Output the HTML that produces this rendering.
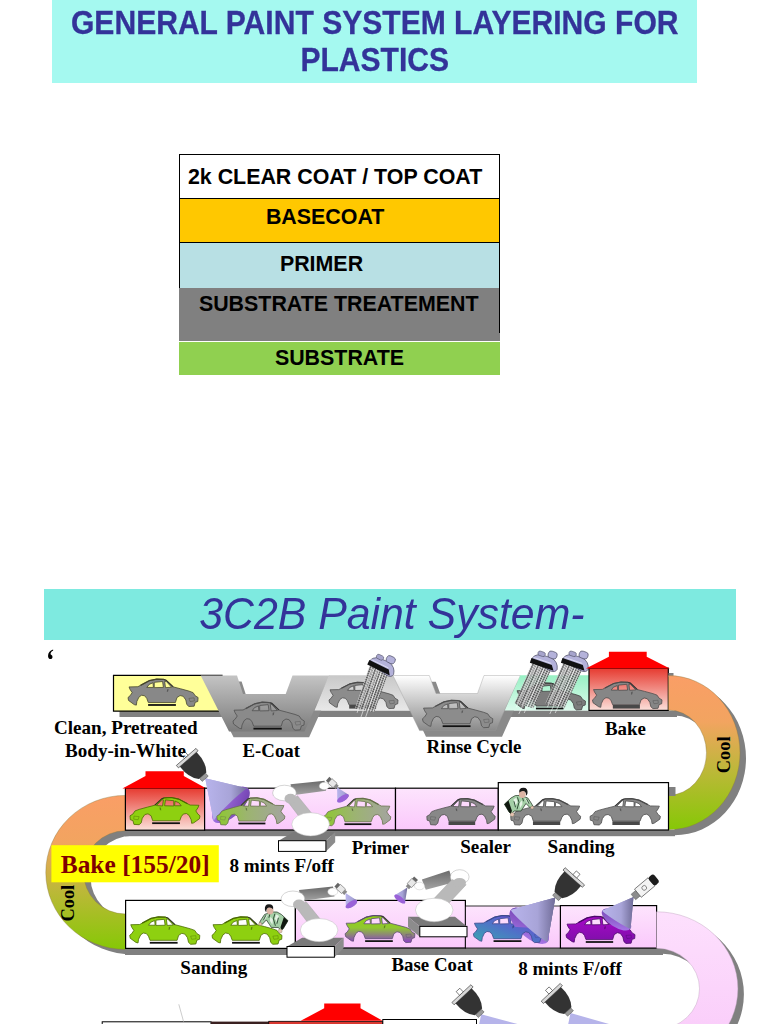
<!DOCTYPE html>
<html><head><meta charset="utf-8">
<style>
html,body{margin:0;padding:0;background:#fff;}
body{width:768px;height:1024px;position:relative;overflow:hidden;font-family:"Liberation Sans",sans-serif;}
.abs{position:absolute;}
#b1{left:51.5px;top:0;width:645.5px;height:82.8px;background:#a5f9f0;}
#t1{-webkit-text-stroke:0.3px #333399;left:21.5px;top:4.3px;width:705.5px;text-align:center;color:#333399;font-weight:bold;font-size:33.1px;line-height:37px;transform:scaleX(0.909);transform-origin:353px 0;}
.lay{position:absolute;left:178.9px;width:320.9px;box-sizing:border-box;font-weight:bold;font-size:21.4px;color:#000;white-space:nowrap;}
.lay span{position:absolute;}
#b2{left:44.3px;top:589px;width:691.9px;height:51.4px;background:#7eeae0;}
#t2{left:46.3px;top:589px;width:691.2px;text-align:center;color:#333399;font-style:italic;font-size:42.8px;line-height:51px;transform:scaleY(1.04);transform-origin:0 40px;}
#q{left:45.6px;top:644.3px;font-family:"Liberation Serif",serif;font-weight:bold;font-size:32px;line-height:32px;color:#000;transform:scaleX(0.8);transform-origin:0 0;}
svg text{font-family:"Liberation Serif",serif;font-weight:bold;fill:#000;}
</style></head><body>
<div id="b1" class="abs"></div>
<div id="t1" class="abs">GENERAL PAINT SYSTEM LAYERING FOR<br>PLASTICS</div>

<div class="lay" style="top:154px;height:45px;background:#fff;border:1px solid #000;"><span style="left:8px;top:9.6px;">2k CLEAR COAT / TOP COAT</span></div>
<div class="lay" style="top:198px;height:45px;background:#ffc800;border:1px solid #000;"><span style="left:86px;top:5.8px;">BASECOAT</span></div>
<div class="lay" style="top:242px;height:46px;background:#b8e0e4;border:1px solid #000;border-bottom:none;"><span style="left:100px;top:8.6px;">PRIMER</span></div>
<div class="lay" style="top:287.7px;height:53.6px;background:#808080;"><span style="left:20px;top:4.2px;">SUBSTRATE TREATEMENT</span></div>
<div class="abs" style="left:498.6px;top:287px;width:1.2px;height:45.5px;background:#000;"></div>
<div class="lay" style="top:342px;height:33px;background:#90d050;"><span style="left:96px;top:4px;">SUBSTRATE</span></div>

<div id="b2" class="abs"></div>
<div id="t2" class="abs">3C2B Paint System-</div>
<div id="q" class="abs">&#8216;</div>
<svg class="abs" style="left:0;top:640px;" width="768" height="384" viewBox="0 640 768 384">
<defs>
<symbol id="car" viewBox="55 85 673 265" preserveAspectRatio="none" overflow="visible">
<path fill-rule="evenodd" d="M65,160 L150,158 L175,145 L260,100 L330,85 L400,88 L420,95 L490,160 L560,178 L640,200 L680,215 L700,245 L728,262 L725,300 L700,308 L690,345 L640,348 L620,330 L610,285 L585,250 L555,243 L525,262 L510,310 L250,310 L235,270 L215,245 L185,240 L160,258 L140,300 L135,335 L115,330 L60,290 L55,262 L75,245 L95,215 L75,185 Z
M236,165 L258,136 L295,120 L299,165 Z M307,116 L387,108 L395,165 L307,167 Z M407,108 L421,106 L474,163 L415,167 Z"/>
<path d="M400,90 L422,96 L490,160" fill="none" stroke="#222" stroke-opacity="0.75" stroke-width="11"/>
<path d="M175,145 L260,100 L330,85 L400,88" fill="none" stroke-width="12"/>
<path d="M430,185 L445,180 L440,205 L428,210 Z" fill="#000" fill-opacity="0.35" stroke="none"/>
<path d="M640,270 L690,265 L692,295 L650,300 Z" fill="none" stroke-opacity="0.5"/>
<rect x="248" y="325" width="267" height="17" fill="#111" stroke="none"/>
</symbol>
<symbol id="carT" viewBox="55 85 673 265" preserveAspectRatio="none" overflow="visible">
<path fill-rule="evenodd" d="M65,160 L150,158 L175,145 L260,100 L330,85 L400,88 L420,95 L490,160 L560,178 L640,200 L680,215 L700,245 L728,262 L725,300 L700,308 L690,345 L640,348 L620,330 L610,285 L585,250 L555,243 L525,262 L510,310 L250,310 L235,270 L215,245 L185,240 L160,258 L140,300 L135,335 L115,330 L60,290 L55,262 L75,245 L95,215 L75,185 Z
M236,165 L258,136 L295,120 L299,165 Z M307,116 L387,108 L395,165 L307,167 Z M407,108 L421,106 L474,163 L415,167 Z"/>
<path d="M400,90 L422,96 L490,160" fill="none" stroke="#222" stroke-opacity="0.75" stroke-width="11"/>
<path d="M175,145 L260,100 L330,85 L400,88" fill="none" stroke-width="12"/>
<path d="M430,185 L445,180 L440,205 L428,210 Z" fill="#000" fill-opacity="0.35" stroke="none"/>
<path d="M640,270 L690,265 L692,295 L650,300 Z" fill="none" stroke-opacity="0.5"/>
<rect x="252" y="312" width="262" height="36" fill="#484848" stroke="none"/>
</symbol>
<linearGradient id="gBake" x1="0" y1="0" x2="0" y2="1"><stop offset="0" stop-color="#e63a30"/><stop offset="1" stop-color="#fbe0da"/></linearGradient>
<linearGradient id="gPink" x1="0" y1="0" x2="0" y2="1"><stop offset="0" stop-color="#fde4fd"/><stop offset="1" stop-color="#fac8fb"/></linearGradient>
<linearGradient id="gPinkArc" x1="0" y1="0" x2="0" y2="1"><stop offset="0" stop-color="#fde0fd"/><stop offset="1" stop-color="#f9c8f9"/></linearGradient>
<linearGradient id="gMint" x1="0" y1="0" x2="0" y2="1"><stop offset="0" stop-color="#98f0c4"/><stop offset="1" stop-color="#dcfaec"/></linearGradient>
<linearGradient id="gEcoat" x1="0" y1="0" x2="0" y2="1"><stop offset="0" stop-color="#c4c4c4"/><stop offset="1" stop-color="#7c7c7c"/></linearGradient>
<linearGradient id="gRinse" x1="0" y1="0" x2="0" y2="1"><stop offset="0" stop-color="#ffffff"/><stop offset="1" stop-color="#8a8a8a"/></linearGradient>
<linearGradient id="gStrip" x1="0" y1="0" x2="0" y2="1"><stop offset="0" stop-color="#c8c8c8"/><stop offset="1" stop-color="#e8e8e8"/></linearGradient>
<linearGradient id="gCool" x1="0" y1="0" x2="0" y2="1"><stop offset="0" stop-color="#fa9e66"/><stop offset="0.3" stop-color="#f2a460"/><stop offset="0.62" stop-color="#bcb838"/><stop offset="1" stop-color="#86c806"/></linearGradient>
<linearGradient id="gCone" x1="0" y1="0" x2="1" y2="0"><stop offset="0" stop-color="#b8b4ec"/><stop offset="0.6" stop-color="#a8a4d8"/><stop offset="1" stop-color="#706c98"/></linearGradient>
<linearGradient id="gCar3" x1="0" y1="0" x2="0" y2="1"><stop offset="0" stop-color="#90d010"/><stop offset="0.45" stop-color="#90c830"/><stop offset="1" stop-color="#8a3cc8"/></linearGradient>
<linearGradient id="gCar4" x1="0" y1="1" x2="1" y2="0"><stop offset="0" stop-color="#38a8b0"/><stop offset="0.5" stop-color="#5070c8"/><stop offset="1" stop-color="#7a38d8"/></linearGradient>
<linearGradient id="gCar5" x1="0" y1="0" x2="0" y2="1"><stop offset="0" stop-color="#a808c8"/><stop offset="1" stop-color="#7c10a8"/></linearGradient>
<linearGradient id="gArm" x1="0" y1="0" x2="0" y2="1"><stop offset="0" stop-color="#6a6a6a"/><stop offset="1" stop-color="#a4a4a4"/></linearGradient>
<pattern id="pSpray" width="2.6" height="2.2" patternUnits="userSpaceOnUse"><rect width="2.6" height="2.2" fill="#525252"/><rect x="0" y="0" width="0.75" height="2.2" fill="#f6f6f6"/><rect x="0" y="0" width="2.6" height="0.8" fill="#d8d8d8" fill-opacity="0.6"/></pattern>
<linearGradient id="gFade" x1="0" y1="0" x2="0" y2="1"><stop offset="0" stop-color="#fff"/><stop offset="0.6" stop-color="#eee"/><stop offset="1" stop-color="#999"/></linearGradient>
<mask id="mSpray" maskUnits="userSpaceOnUse" x="-14" y="0" width="28" height="60"><rect x="-14" y="0" width="28" height="60" fill="url(#gFade)"/></mask>
<g id="showerSpray">
  <g mask="url(#mSpray)"><polygon points="-10,0 10,0 9.5,43 -10,46" fill="url(#pSpray)" fill-opacity="0.92"/></g>
  <path d="M-1,2 L-1.5,54 M3,2 L3,51 M-6,2 L-6.5,49" stroke="#fff" stroke-width="0.6" fill="none" stroke-opacity="0.85"/>
</g>
<g id="showerHead">
  <path d="M-12,-1 Q-12,-8 -4,-9.5 L6,-10 Q14,-8.5 15.5,-1 Q15,2.8 10,2.8 Z" fill="#b4b2da" stroke="#44445a" stroke-width="0.6"/>
  <rect x="2" y="-16.5" width="9" height="7" rx="2.8" fill="#b4b2da" stroke="#44445a" stroke-width="0.6"/>
  <rect x="-8" y="-12.8" width="7.5" height="4.5" rx="2" fill="#a6a4cc" stroke="#44445a" stroke-width="0.5"/>
  <path d="M-12.5,-3.4 L9,-3.4 L12.5,1.6 L-12.5,1.6 Z" fill="#111"/>
  <path d="M-11,-4.6 L8,-4.6" stroke="#e0e0f4" stroke-width="0.8"/>
</g>
<g id="gun">
  <!-- big dark spray gun, nozzle pointing down (+y), origin at nozzle tip -->
  <rect x="-4" y="-4" width="8" height="4" fill="#9a9a9a" stroke="#333" stroke-width="0.4"/>
  <path d="M-5,-4 Q-12,-12 -11,-26 L11,-26 Q12,-12 5,-4 Z" fill="#333"/>
  <rect x="-13" y="-29" width="26" height="3.2" fill="#d8d8d8" stroke="#333" stroke-width="0.6"/>
  <rect x="-2.5" y="-34" width="5" height="5" fill="#fff" stroke="#333" stroke-width="0.6"/>
</g>
<g id="sgun">
  <!-- small robot gun: origin nozzle tip, pointing +y -->
  <rect x="-2.2" y="-3" width="4.4" height="3" fill="#8a8a8a"/>
  <rect x="-3" y="-10" width="6" height="7" fill="#e8e8e8" stroke="#555" stroke-width="0.5"/>
  <rect x="-2.6" y="-13" width="5.2" height="3" fill="#666"/>
</g>
</defs>
<defs>
<linearGradient id="gInner" x1="0" y1="0" x2="1" y2="1"><stop offset="0" stop-color="#b080f0"/><stop offset="1" stop-color="#6a3aa8"/></linearGradient>
<linearGradient id="gCarGG" x1="0" y1="0" x2="1" y2="0"><stop offset="0" stop-color="#a4a4a0"/><stop offset="0.55" stop-color="#9cb470"/><stop offset="1" stop-color="#8ec830"/></linearGradient>
<g id="worker">
  <!-- local coords: page coords of worker 1 minus (523.5,792.3) head centre -->
  <path d="M-19.1,11.9 L-12.5,5.7 L-8.2,3.3 L-2.5,3.2 L4.3,5.7 L7,9.7 L9.4,13.7 L6.5,15.4 L2.5,11.2 L-0.5,15.7 L-2.5,18.7 L-9.5,18.7 L-12.1,22.1 L-14.5,19.7 Z" fill="#a4cfa6" stroke="#1c2c1c" stroke-width="0.7"/>
  <path d="M-19.1,11.9 L-15,8.2 L-13.6,12.5 L-11.6,18.5 L-12.6,21.6 L-14.5,19.7 Z" fill="#10180f"/>
  <path d="M-10,7 L-7,5.5 L-6,10 L-8.5,14 Z M1,6 L3.5,7 L6,12 L4,11 Z M-4,11 L-1.5,8 L-1,12 L-3.5,16 Z" fill="#e4f2e4"/>
  <path d="M-6,5 L-4.5,10 L-6.5,17 M-1,5 L0,9 M3,6.5 L5.5,11.5 M-9.5,9 L-8,15" stroke="#24402a" stroke-width="0.9" fill="none"/>
  <circle cx="-11.3" cy="22.2" r="2" fill="#e6c2b2" stroke="#664" stroke-width="0.3"/>
  <circle cx="8.6" cy="15.2" r="1.6" fill="#e6c2b2" stroke="#664" stroke-width="0.3"/>
  <ellipse cx="-1.2" cy="2" rx="3.4" ry="3.8" fill="#dcb4a4"/>
  <path d="M-4.2,0.5 Q-5,-4.6 0,-4.6 Q4.6,-4.6 4,1 Q3.6,3 2.6,3.4 Q2.8,-0.5 0,-1.2 Q-2.4,-1.6 -4.2,0.5 Z" fill="#1a1a1a"/>
</g>
<g id="robot">
  <!-- origin = front-left-top corner of the white base front face; robot reaching to the RIGHT -->
  <polygon points="0,0 15.2,-8.7 56.7,-8.7 47.4,0" fill="#7a7a7a"/>
  <polygon points="47.4,0 56.7,-8.7 56.7,1.6 47.4,10.7" fill="#8c8c8c"/>
  <rect x="0" y="0" width="47.4" height="10.7" fill="#fff" stroke="#000" stroke-width="1"/>
  <!-- upper arm (dark) -->
  <polygon points="12,-56.5 46,-60 47.5,-50 14,-45.5" fill="url(#gArm)"/>
  <!-- shoulder -->
  <ellipse cx="5.9" cy="-47.7" rx="11.8" ry="7.8" fill="#fff" stroke="#aaa" stroke-width="0.5"/>
  <!-- lower arm (light) -->
  <polygon points="10,-38 19,-45 36,-24 26,-17" fill="#b9b9b9" stroke="#999" stroke-width="0.4"/>
  <ellipse cx="12" cy="-42" rx="6" ry="5" fill="#b9b9b9"/>
  <!-- body -->
  <ellipse cx="32.1" cy="-16.4" rx="18.8" ry="11.6" fill="#fff" stroke="#bbb" stroke-width="0.5"/>
  <!-- wrist -->
  <ellipse cx="45.7" cy="-54.7" rx="5" ry="3.7" fill="#fff" stroke="#bbb" stroke-width="0.4"/>
  <!-- small gun + cone -->
  <use href="#sgun" transform="translate(58.8,-53.2) rotate(-48)"/>
  <path d="M58.6,-53.5 L70,-46 A6.6,2.8 -32 0 1 58.8,-38.8 Z" fill="url(#gCone)"/>
  <ellipse cx="64.4" cy="-42.4" rx="6.6" ry="2.8" transform="rotate(-32 64.4 -42.4)" fill="#9a62d8"/>
</g>
</defs>
<polygon points="119.5,711 222,711 222,717 119.5,717" fill="#808080"/>
<polygon points="312,710.4 416,710.4 416,717 312,717" fill="#808080"/>
<polygon points="500,710.4 677,710.4 677,717 500,717" fill="#808080"/>
<polygon points="113.5,675.4 222,675.4 222,711.2 113.5,711.2" fill="#ffff99" stroke="#000" stroke-width="1.2"/>
<use href="#car" x="128" y="679.1" width="70.1" height="27.6" fill="#888888" stroke="#44442c" stroke-width="7.5" />
<polygon points="205.29999999999998,681.4 241.6,681.4 247.6,699.9 290.3,699.9 297.1,681.4 334.20000000000005,681.4 309.1,737.3 233.6,737.3" fill="#8a8a8a"/>
<polygon points="200.7,675.5 237,675.5 243,694 285.7,694 292.5,675.5 329.6,675.5 304.5,731.4 229,731.4" fill="url(#gEcoat)"/>
<use href="#car" x="233" y="702.2" width="71.3" height="28.2" fill="#8a8a8a" stroke="#505050" stroke-width="7.5" />
<text x="242.5" y="757" font-size="18.3" textLength="57.5" lengthAdjust="spacingAndGlyphs">E-Coat</text>
<polygon points="329,675.3 393,675.3 412.5,710.4 314.5,710.4" fill="url(#gStrip)"/>
<use href="#carT" x="329" y="682.3" width="69" height="26.5" fill="#8c8c8c" stroke="#4a4a4a" stroke-width="7.5" />
<use href="#showerSpray" transform="translate(379.2,668.6) rotate(19)"/><use href="#showerHead" transform="translate(379.2,668.6) rotate(26)"/>
<polygon points="399.5,681.7 435.8,681.7 442.5,699.7 484.0,699.7 490.5,681.7 526.9,681.7 502.0,736.8000000000001 426.0,736.8000000000001" fill="#8a8a8a"/>
<polygon points="393,675.5 429.3,675.5 436,693.5 477.5,693.5 484,675.5 520.4,675.5 495.5,730.6 419.5,730.6" fill="url(#gRinse)" stroke="#999" stroke-width="0.4"/>
<use href="#car" x="422.5" y="700.3" width="70.3" height="27.6" fill="#8c8c8c" stroke="#505050" stroke-width="7.5" />
<text x="426.5" y="752.7" font-size="18.3" textLength="95" lengthAdjust="spacingAndGlyphs">Rinse Cycle</text>
<polygon points="520.4,675.3 589,675.3 589,710.4 504.7,710.4" fill="url(#gMint)"/>
<use href="#car" x="516" y="683" width="69.5" height="27.2" fill="#7c7c7c" stroke="#404040" stroke-width="7.5" />
<use href="#showerSpray" transform="translate(542.2,665.2) rotate(24)"/><use href="#showerHead" transform="translate(542.2,665.2) rotate(19)"/>
<use href="#showerSpray" transform="translate(573.2,665.2) rotate(24)"/><use href="#showerHead" transform="translate(573.2,665.2) rotate(19)"/>
<rect x="589" y="668.2" width="79.3" height="42.2" fill="url(#gBake)" stroke="#000" stroke-width="1.2"/>
<polygon points="585.9,668.4 608.9,656.7 608.9,651.8 646.7,651.8 646.7,656.7 669.8,668.4" fill="#ff0000"/>
<use href="#carT" x="592.5" y="682" width="69.5" height="26.8" fill="#868686" stroke="#4a4a4a" stroke-width="7.5" />
<text x="605" y="735.4" font-size="18.3" textLength="41" lengthAdjust="spacingAndGlyphs">Bake</text>
<path d="M674.5,681.1 A71.5,77.1 0 0 1 674.5,835.3000000000001 L674.5,800.8000000000001 A38,42.6 0 0 0 674.5,715.6 Z" fill="#808080"/>
<rect x="668.5" y="673" width="5" height="4" fill="#808080"/>
<path d="M668.5,675.6 A71.5,77.1 0 0 1 668.5,829.8000000000001 L668.5,795.3000000000001 A38,42.6 0 0 0 668.5,710.1 Z" fill="url(#gCool)" stroke="#8a7a40" stroke-width="0.4"/>
<text transform="translate(729.6,773.2) rotate(-90)" font-size="19.3" textLength="36.8" lengthAdjust="spacingAndGlyphs">Cool</text>
<rect x="125" y="829.8" width="550" height="6.4" fill="#808080"/>
<rect x="668.5" y="787" width="7" height="9" fill="#808080"/>
<path d="M132.4,800.4 A79.6,77 0 0 0 132.4,954.4 L132.4,919.0 A41.8,41.6 0 0 1 132.4,835.8 Z" fill="#808080"/>
<path d="M125.4,795.4 A79.6,77 0 0 0 125.4,949.4 L125.4,914.0 A41.8,41.6 0 0 1 125.4,830.8 Z" fill="url(#gCool)" stroke="#8a7a40" stroke-width="0.4"/>
<text transform="translate(73.9,921.6) rotate(-90)" font-size="19.3" textLength="36.8" lengthAdjust="spacingAndGlyphs">Cool</text>
<rect x="125.4" y="788.2" width="79.2" height="42" fill="url(#gBake)" stroke="#000" stroke-width="1.2"/>
<polygon points="122.4,788.4 145.5,776 145.5,771.3 183.8,771.3 183.8,776 206.4,788.4" fill="#ff0000"/>
<use href="#car" x="0" y="0" width="70" height="27.4" transform="translate(200,797.5) scale(-1,1)" fill="#8ed010" stroke="#4a6a00" stroke-width="7.5" />
<rect x="204.6" y="788.2" width="190.9" height="41.8" fill="url(#gPink)" stroke="#000" stroke-width="1.2"/>
<rect x="395.5" y="788.2" width="102.8" height="41.8" fill="url(#gPink)" stroke="#000" stroke-width="1.2"/>
<rect x="498.3" y="782.6" width="170.2" height="47.4" fill="#fff" stroke="#000" stroke-width="1.2"/>
<rect x="0" y="0" width="0" height="0"/>
<path d="M205.2,778.3 L213.75,821.3 A23.745907542142913,11 -43.8 0 0 248,788.4 Z" fill="url(#gCone)"/><ellipse cx="230.875" cy="804.8499999999999" rx="23.745907542142913" ry="11" transform="rotate(-43.8 230.875 804.8499999999999)" fill="url(#gInner)"/><path d="M205.2,778.3 L213.75,821.3 A23.745907542142913,2.2 -43.8 0 1 248,788.4 Z" fill="url(#gCone)"/>
<use href="#gun" transform="translate(205.2,778.8) rotate(-41)"/>
<use href="#car" x="0" y="0" width="68" height="27.4" transform="translate(284.9,797.8) scale(-1,1)" fill="url(#gCarGG)" stroke="#66704a" stroke-width="7.5" />
<use href="#car" x="0" y="0" width="67.8" height="27.5" transform="translate(390.8,798.4) scale(-1,1)" fill="url(#gCarGG)" stroke="#66704a" stroke-width="7.5" />
<use href="#robot" transform="translate(278.5,840.7)"/>
<use href="#carT" x="0" y="0" width="68.4" height="26.6" transform="translate(495.20000000000005,798.6) scale(-1,1)" fill="#888888" stroke="#4a4a4a" stroke-width="7.5" />
<use href="#carT" x="0" y="0" width="70" height="26.6" transform="translate(580.7,798.6) scale(-1,1)" fill="#888888" stroke="#4a4a4a" stroke-width="7.5" />
<use href="#carT" x="0" y="0" width="70.4" height="26.6" transform="translate(660.4,798.6) scale(-1,1)" fill="#888888" stroke="#4a4a4a" stroke-width="7.5" />
<use href="#worker" transform="translate(523.5,792.3)"/>
<text x="351.7" y="854.4" font-size="18.3" textLength="57.3" lengthAdjust="spacingAndGlyphs">Primer</text>
<text x="460.3" y="852.6" font-size="18.3" textLength="50.7" lengthAdjust="spacingAndGlyphs">Sealer</text>
<text x="547.6" y="853" font-size="18.3" textLength="67.1" lengthAdjust="spacingAndGlyphs">Sanding</text>
<text x="229.4" y="872.4" font-size="18.3" textLength="104.6" lengthAdjust="spacingAndGlyphs">8 mints F/off</text>
<rect x="51.4" y="845.2" width="167.4" height="37.1" fill="#ffff00"/>
<text x="60.7" y="873" font-size="24.4" textLength="149" lengthAdjust="spacingAndGlyphs" style="fill:#800000">Bake [155/20]</text>
<text x="54" y="733.8" font-size="18.3" textLength="143.5" lengthAdjust="spacingAndGlyphs">Clean, Pretreated</text>
<text x="65" y="757" font-size="18.3" textLength="121" lengthAdjust="spacingAndGlyphs">Body-in-White</text>
<rect x="125" y="948" width="538" height="7" fill="#808080"/>
<rect x="125.6" y="900.4" width="169.8" height="48" fill="#fff" stroke="#000" stroke-width="1.2"/>
<use href="#car" x="129.7" y="916.9" width="70.1" height="27.6" fill="#8ed010" stroke="#4a6a00" stroke-width="7.5" />
<use href="#car" x="212" y="916.9" width="70" height="27.6" fill="#8ed010" stroke="#4a6a00" stroke-width="7.5" />
<use href="#worker" transform="translate(268.9,908.75) scale(-1,1)"/>
<rect x="295.4" y="900.4" width="170" height="47.6" fill="url(#gPink)" stroke="#000" stroke-width="1.2"/>
<rect x="465.4" y="906" width="95" height="42" fill="url(#gPink)" stroke="#000" stroke-width="0.8"/>
<rect x="560.4" y="905.6" width="96.2" height="42.5" fill="url(#gPink)" stroke="#000" stroke-width="1.2"/>
<use href="#car" x="345.1" y="915.5" width="69.8" height="27.3" fill="url(#gCar3)" stroke="#5a4a70" stroke-width="7.5" />
<path d="M555.3,897.6 L547.6,941.9 A24.341168829783026,11 -138.7 0 0 511,909.8 Z" fill="url(#gCone)"/><ellipse cx="529.3" cy="925.8499999999999" rx="24.341168829783026" ry="11" transform="rotate(-138.7 529.3 925.8499999999999)" fill="url(#gInner)"/>
<use href="#car" x="473.4" y="915.5" width="70.3" height="27.3" fill="url(#gCar4)" stroke="#3c4a8c" stroke-width="7.5" />
<use href="#car" x="566" y="916.4" width="69" height="27.3" fill="url(#gCar5)" stroke="#4a0868" stroke-width="7.5" />
<use href="#robot" transform="translate(287,946.5)"/>
<g>
<polygon points="419.8,926.4 408,916.8 455,916.8 467,926.4" fill="#7a7a7a"/>
<polygon points="419.8,926.4 408,916.8 408,927 419.8,936.8" fill="#8c8c8c"/>
<rect x="419.8" y="926.4" width="47.2" height="10.4" fill="#fff" stroke="#000" stroke-width="1"/>
<polygon points="449.3,870.4 421.9,879.5 425.8,889.8 453.2,882.6" fill="url(#gArm)"/>
<ellipse cx="459.7" cy="876.9" rx="9.4" ry="7.2" fill="#fff" stroke="#aaa" stroke-width="0.5"/>
<polygon points="451.9,879.5 466.2,884.7 446.7,905.6 433.6,899" fill="#b9b9b9" stroke="#999" stroke-width="0.4"/>
<ellipse cx="459.5" cy="882.5" rx="6.5" ry="4.5" fill="#b9b9b9"/>
<ellipse cx="434.2" cy="910" rx="18.8" ry="11.8" fill="#fff" stroke="#bbb" stroke-width="0.5"/>
<ellipse cx="419.5" cy="886" rx="5" ry="3.8" fill="#fff" stroke="#bbb" stroke-width="0.4"/>
<use href="#sgun" transform="translate(407.4,887.8) rotate(42)"/>
<path d="M407.4,887.6 L394.6,895.2 A6.6,2.4 37 0 0 405,903 Z" fill="url(#gCone)"/>
<ellipse cx="399.8" cy="899.1" rx="6.6" ry="2.6" transform="rotate(37 399.8 899.1)" fill="#9a62d8"/>
</g>
<clipPath id="clipTop3"><polygon points="500,900 560,900 560,945 535,928 500,926"/></clipPath><g clip-path="url(#clipTop3)"><path d="M555.3,897.6 L547.6,941.9 A24.341168829783026,11 -138.7 0 0 511,909.8 Z" fill="url(#gCone)"/><ellipse cx="529.3" cy="925.8499999999999" rx="24.341168829783026" ry="11" transform="rotate(-138.7 529.3 925.8499999999999)" fill="url(#gInner)"/></g>
<path d="M555.3,897.6 L547.6,941.9 A24.341168829783026,2.2 -138.7 0 1 511,909.8 Z" fill="url(#gCone)"/>
<use href="#gun" transform="translate(555.6,898) rotate(41.6)"/>
<path d="M633.5,897 L630.6,928.6 A16.796577032240858,7.5 -147.4 0 0 602.3,910.5 Z" fill="url(#gCone)"/><ellipse cx="616.45" cy="919.55" rx="16.796577032240858" ry="7.5" transform="rotate(-147.4 616.45 919.55)" fill="url(#gInner)"/><path d="M633.5,897 L630.6,928.6 A16.796577032240858,1.5 -147.4 0 1 602.3,910.5 Z" fill="url(#gCone)"/>
<g transform="translate(633.4,897) rotate(50) scale(1.18)">
<rect x="-3" y="-5" width="6" height="5" fill="#8c8c8c" stroke="#555" stroke-width="0.4"/>
<rect x="-4.5" y="-20" width="9" height="15" fill="#f4f4f4" stroke="#555" stroke-width="0.6"/>
<circle cx="0" cy="-12" r="2" fill="none" stroke="#666" stroke-width="0.6"/>
<rect x="-4.5" y="-25.5" width="9" height="6" rx="2.5" fill="#1c1c1c"/>
</g>
<path d="M662.5,917.3 A81.4,77 0 0 1 662.5,1071.3 L662.5,1034.8 A43,40.5 0 0 0 662.5,953.8 Z" fill="#808080"/>
<path d="M656.5,911.8 A81.4,77 0 0 1 656.5,1065.8 L656.5,1029.3 A43,40.5 0 0 0 656.5,948.3 Z" fill="url(#gPinkArc)" stroke="#b8a0b8" stroke-width="0.4"/>
<text x="180.3" y="974.4" font-size="18.3" textLength="66.9" lengthAdjust="spacingAndGlyphs">Sanding</text>
<text x="391.5" y="971.3" font-size="18.3" textLength="81.2" lengthAdjust="spacingAndGlyphs">Base Coat</text>
<text x="518.2" y="974.7" font-size="18.3" textLength="103.7" lengthAdjust="spacingAndGlyphs">8 mints F/off</text>
<rect x="102.2" y="1021.8" width="108.8" height="10" fill="#fff" stroke="#000" stroke-width="1"/>
<rect x="211" y="1021.6" width="58" height="4" fill="#3a2020"/>
<rect x="268.8" y="1021.3" width="114" height="10" fill="#d83830" stroke="#000" stroke-width="0.8"/>
<polygon points="300.7,1020.8 324.2,1008.3 324.2,1003.5 360.5,1003.5 360.5,1008.3 382.7,1020.8" fill="#ff0000"/>
<path d="M178.8,1004.3 L183.7,1022" stroke="#aaa" stroke-width="0.6"/>
<rect x="382.8" y="1019.5" width="93.7" height="10" fill="#fff" stroke="#000" stroke-width="1"/>
<polygon points="481.2,1014.3 478,1030 540,1030" fill="#b6b4ea"/>
<polygon points="570.5,1013 567,1030 630,1030" fill="#b6b4ea"/>
<use href="#gun" transform="translate(481.2,1014.8) rotate(-43)"/>
<use href="#gun" transform="translate(570.5,1013.5) rotate(-43)"/>
</svg>
</body></html>
